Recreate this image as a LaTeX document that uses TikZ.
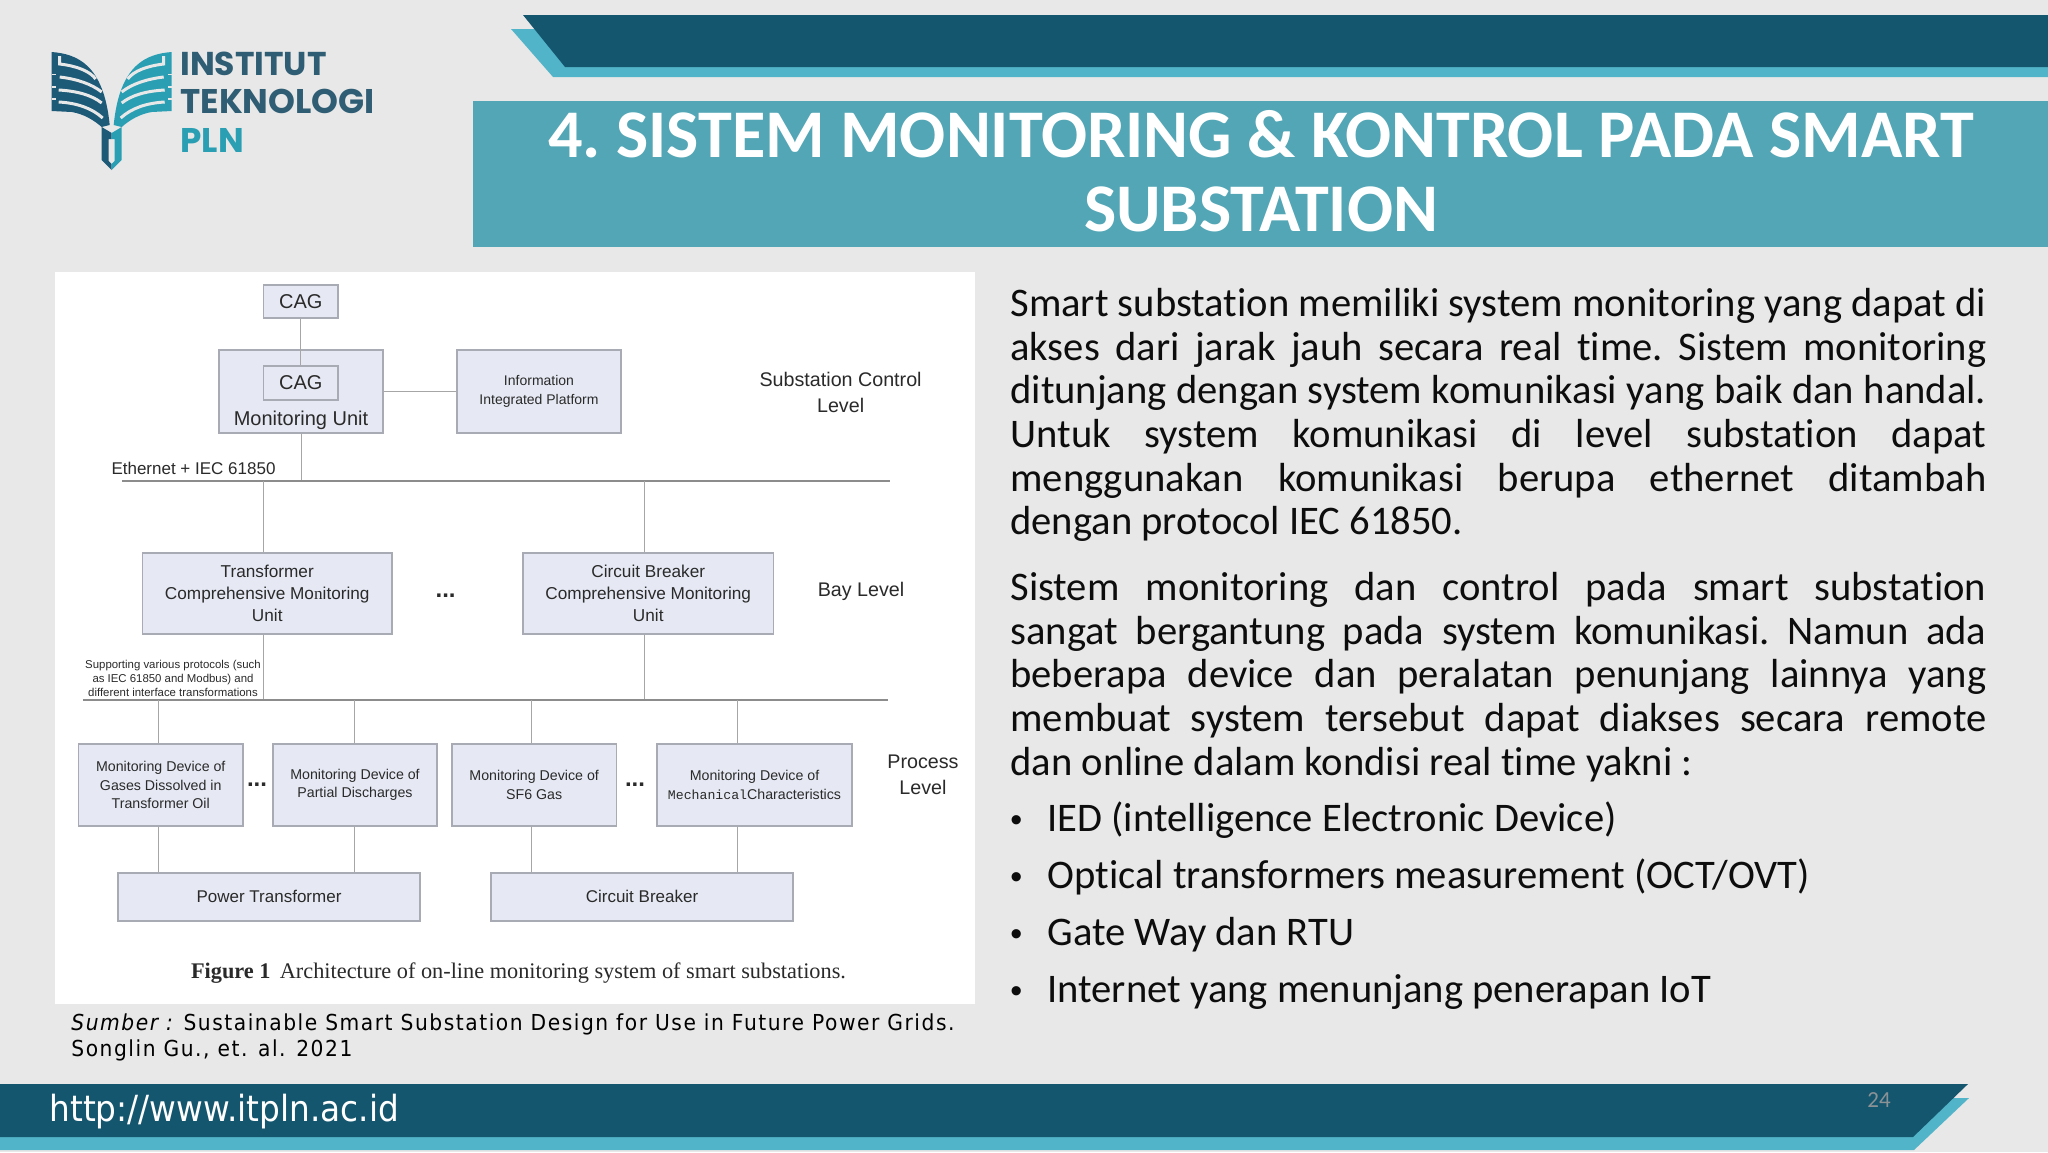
\documentclass[tikz,border=0pt]{standalone}
\usepackage{fontspec}
\setmainfont[Ligatures=NoCommon]{Carlito}
\newfontfamily\figfont{Liberation Sans}
\newfontfamily\figserif{Liberation Serif}
\newfontfamily\figmono{Liberation Mono}
\newfontfamily\sumfont[FakeStretch=0.92,LetterSpace=7]{DejaVu Sans}
\newfontfamily\urlfont[FakeStretch=0.91]{DejaVu Sans}
\newfontfamily\logofont{Poppins}
\definecolor{pagebg}{HTML}{E8E8E8}
\definecolor{banddark}{HTML}{15566F}
\definecolor{bandteal}{HTML}{52B4C8}
\definecolor{titleteal}{HTML}{53A6B5}
\definecolor{boxfill}{HTML}{E6E9F4}
\definecolor{boxline}{HTML}{A8ABB4}
\definecolor{wireline}{HTML}{A6A6A6}
\definecolor{busline}{HTML}{8C8C8C}
\definecolor{figtext}{HTML}{2A2A2A}
\definecolor{logodark}{HTML}{1C5A78}
\definecolor{logoteal}{HTML}{2A9FB3}
\definecolor{logotext}{HTML}{2F5D73}
\definecolor{pagenum}{HTML}{8A9296}
\newcommand\plainspace{\spaceskip=0pt\xspaceskip=0pt\frenchspacing}
\newcommand\jl[1]{\hbox to 488pt{\plainspace\rule{0pt}{16pt}#1}\par}
\newcommand\jlast[1]{\hbox to 488pt{\plainspace\rule{0pt}{16pt}#1\hfil}\par}
\newcommand\bl[1]{\hbox{\plainspace\rule{0pt}{16pt}\makebox[18.5pt][l]{\figfont\fs{17}{17}•}#1}\par}
\newcommand\fs[2]{\fontsize{#1}{#2}\selectfont}
\tikzset{
 fbox/.style={draw=boxline,fill=boxfill,line width=0.7pt,inner sep=0pt,text=figtext,align=center},
 wire/.style={draw=wireline,line width=0.5pt},
 bus/.style={draw=busline,line width=0.7pt},
 figlabel/.style={inner sep=0pt,text=figtext,align=center,font=\figfont\fs{9.85}{13}},
 bodytext/.style={anchor=north west,inner sep=0pt,text width=488pt,font=\fs{20.3}{21.85},text=black!95},
 logotxt/.style={anchor=base west,inner sep=0pt,font=\logofont\bfseries\fs{16.5}{18}},
 sumtext/.style={anchor=base west,inner sep=0pt,align=left,font=\sumfont\fs{11}{13},text=black},
}
\newcommand\logowing[1]{%
 \fill[#1] (-60,52) .. controls (-35,54) and (-8,64) .. (-2,125) -- (-10,127) .. controls (-18,120) and (-28,114) .. (-40,112) -- (-60,111) -- cycle;
 \begin{scope}[draw=pagebg,line width=1.5pt]
  \draw (-52,56) -- (-52,64) .. controls (-35,66) and (-22,71) .. (-16,79);
  \draw (-52,77) .. controls (-35,79) and (-20,84) .. (-10,92);
  \draw (-53,90) .. controls (-35,91) and (-20,95) .. (-10,103);
  \draw (-53,102) .. controls (-35,103) and (-20,108) .. (-9,118);
  \draw[line width=0.7pt] (-60,74.5) -- (-56,74.5) (-60,87) -- (-56,87) (-60,99) -- (-56,99);
 \end{scope}
 \fill[#1] (-10,127) -- (0,133) -- (0,139) -- (-3,139) -- (-3,161) -- (0,164) -- (0,170) -- (-10,160) -- cycle;
}
\begin{document}
\begin{tikzpicture}[x=0.5pt,y=-0.5pt]
\useasboundingbox (0,0) rectangle (2048,1152);
\fill[pagebg] (0,0) rectangle (2048,1152);
% top band
\fill[bandteal] (511,29) -- (2048,29) -- (2048,77) -- (553,77) -- cycle;
\fill[banddark] (523,15) -- (2048,15) -- (2048,67) -- (565,67) -- cycle;
% title block
\fill[titleteal] (473,100.5) rectangle (2048,247);
\node[inner sep=0pt,align=center,text=white,font=\bfseries\fs{34.1}{36.75}] (title) at (1261,171)
 {\plainspace 4. SISTEM MONITORING \& KONTROL PADA SMART\\\plainspace SUBSTATION};
% logo
\begin{scope}[shift={(111.7,0)}] \logowing{logodark} \end{scope}
\begin{scope}[shift={(111.7,0)},xscale=-1] \logowing{logoteal} \end{scope}
\node[logotxt,text=logotext] (logoa) at (180,75) {INSTITUT};
\node[logotxt,text=logotext,font=\logofont\bfseries\fs{17.1}{18}] (logob) at (180,113) {TEKNOLOGI};
\node[logotxt,text=logoteal,font=\logofont\bfseries\fs{17.1}{18}] (logoc) at (180,152) {PLN};
% bottom band
\fill[bandteal] (0,1098) -- (1969,1098) -- (1914,1150) -- (0,1150) -- cycle;
\fill[banddark] (0,1084) -- (1968,1084) -- (1913,1137) -- (0,1137) -- cycle;
\node[anchor=base west,inner sep=0pt,text=white,font=\urlfont\fs{18}{20}] (url) at (49,1121) {http://www.itpln.ac.id};
\node[inner sep=0pt,text=pagenum,font=\fs{11.5}{13}] (pagenumber) at (1879,1100) {24};
% figure panel
\fill[white] (55,272) rectangle (975,1004);
\node[fbox,font=\figfont\fs{10}{12},minimum width=37.25pt,minimum height=16.5pt] (cagtop) at (300.75,301.5) {CAG};
\node[fbox,minimum width=82pt,minimum height=41.5pt] (mon) at (301,391.5) {};
\node[fbox,font=\figfont\fs{10}{12},minimum width=37.25pt,minimum height=17pt] (cagin) at (300.75,383) {CAG};
\node[figlabel,font=\figfont\fs{10}{12}] (monlabel) at (301,420) {Monitoring Unit};
\node[fbox,font=\figfont\fs{7}{9.15},minimum width=82pt,minimum height=41.5pt] (info) at (539,391.5) {Information\\Integrated Platform};
\node[figlabel] (lvlsub) at (840.6,392) {Substation Control\\Level};
\node[figlabel,font=\figfont\fs{8.5}{10}] (ethlabel) at (193.5,468) {Ethernet + IEC 61850};
\coordinate (busAw) at (122,481);
\coordinate (busAe) at (890,481);
\coordinate (tapA) at (263.5,481);
\coordinate (tapB) at (644,481);
\coordinate (busBw) at (83,700);
\coordinate (busBe) at (888,700);
\coordinate (tapC) at (263.5,700);
\coordinate (tapD) at (644,700);
\coordinate (tapE) at (158.5,700);
\coordinate (tapF) at (354,700);
\coordinate (tapG) at (531.6,700);
\coordinate (tapH) at (737,700);
\tikzset{bayfont/.style={font=\figfont\fs{8.6}{10.85}},devfont/.style={font=\figfont\fs{7.1}{9.15}},basefont/.style={font=\figfont\fs{8.5}{10}}}
\node[fbox,bayfont,minimum width=124.75pt,minimum height=40.5pt] (tcm) at (267.25,593.5) {Transformer\\Comprehensive Mo{\figserif n}itoring\\Unit};
\node[fbox,bayfont,minimum width=125.25pt,minimum height=40.5pt] (cbm) at (648.25,593.5) {Circuit Breaker\\Comprehensive Monitoring\\Unit};
\node[figlabel,font=\figfont\bfseries\fs{12}{12}] (dotsA) at (445.6,596) {...};
\node[figlabel] (lvlbay) at (861,591) {Bay Level};
\node[figlabel,font=\figfont\fs{5.7}{7}] (support) at (173,678) {Supporting various protocols (such\\as IEC 61850 and Modbus) and\\different interface transformations};
\node[fbox,devfont,minimum width=82.25pt,minimum height=41pt] (dev1) at (160.75,785) {Monitoring Device of\\Gases Dissolved in\\Transformer Oil};
\node[fbox,devfont,minimum width=82pt,minimum height=41pt] (dev2) at (355,785) {Monitoring Device of\\Partial Discharges};
\node[fbox,devfont,minimum width=82.2pt,minimum height=41pt] (dev3) at (534.2,785) {Monitoring Device of\\SF6 Gas};
\node[fbox,devfont,minimum width=97.5pt,minimum height=41pt] (dev4) at (754.5,785) {Monitoring Device of\\{\figmono\fs{6.6}{9.15}Mechanical}Characteristics\hspace{4pt}};
\node[figlabel,font=\figfont\bfseries\fs{12}{12}] (dotsB) at (257,785) {...};
\node[figlabel,font=\figfont\bfseries\fs{12}{12}] (dotsC) at (635,785) {...};
\node[figlabel] (lvlproc) at (923,775) {Process\\Level};
\node[fbox,basefont,minimum width=151pt,minimum height=24pt] (ptr) at (269,897) {\raisebox{1pt}{Power Transformer}};
\node[fbox,basefont,minimum width=151pt,minimum height=24pt] (cbr) at (642,897) {\raisebox{1pt}{Circuit Breaker}};
\node[inner sep=0pt,text=figtext,font=\figserif\fs{11.15}{12}] (figcap) at (518.5,973) {\textbf{Figure 1}\hspace{0.42em}Architecture of on-line monitoring system of smart substations.};
% connectors
\draw[wire] (cagtop) -- (cagin);
\draw[wire] (mon) -- (info);
\draw[wire] (mon.south) -- (mon.south |- busAw);
\draw[bus] (busAw) -- (busAe);
\draw[wire] (tapA) -- (tapA |- tcm.north);
\draw[wire] (tapB) -- (tapB |- cbm.north);
\draw[wire] (tapC |- tcm.south) -- (tapC);
\draw[wire] (tapD |- cbm.south) -- (tapD);
\draw[bus] (busBw) -- (busBe);
\draw[wire] (tapE) -- (tapE |- dev1.north);
\draw[wire] (tapF) -- (tapF |- dev2.north);
\draw[wire] (tapG) -- (tapG |- dev3.north);
\draw[wire] (tapH) -- (tapH |- dev4.north);
\draw[wire] (tapE |- dev1.south) -- (tapE |- ptr.north);
\draw[wire] (tapF |- dev2.south) -- (tapF |- ptr.north);
\draw[wire] (tapG |- dev3.south) -- (tapG |- cbr.north);
\draw[wire] (tapH |- dev4.south) -- (tapH |- cbr.north);
% source
\node[sumtext] (source) at (71,1056.5) {\itshape Sumber :\upshape{} Sustainable Smart Substation Design for Use in Future Power Grids.\\Songlin Gu., et. al. 2021};
% body text
\node[bodytext] (paraone) at (1010,284) {%
\jl{Smart substation memiliki system monitoring yang dapat di}%
\jl{akses dari jarak jauh secara real time. Sistem monitoring}%
\jl{ditunjang dengan system komunikasi yang baik dan handal.}%
\jl{Untuk system komunikasi di level substation dapat}%
\jl{menggunakan komunikasi berupa ethernet ditambah}%
\jlast{dengan protocol IEC 61850.}};
\node[bodytext] (paratwo) at (1010,568) {%
\jl{Sistem monitoring dan control pada smart substation}%
\jl{sangat bergantung pada system komunikasi. Namun ada}%
\jl{beberapa device dan peralatan penunjang lainnya yang}%
\jl{membuat system tersebut dapat diakses secara remote}%
\jlast{dan online dalam kondisi real time yakni :}};
\node[bodytext,font=\fs{20.3}{28.35}] (bullets) at (1010,799.5) {%
\bl{IED (intelligence Electronic Device)}%
\bl{Optical transformers measurement (OCT/OVT)}%
\bl{Gate Way dan RTU}%
\bl{Internet yang menunjang penerapan IoT}};
\end{tikzpicture}
\end{document}
